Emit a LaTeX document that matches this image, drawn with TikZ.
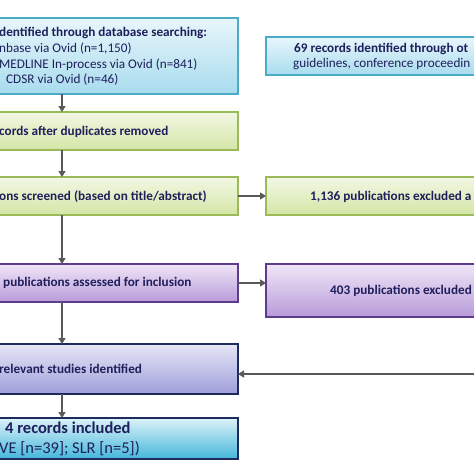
\documentclass[tikz,border=0pt]{standalone}
\usepackage{fontspec}
\setmainfont{Carlito}
\usetikzlibrary{arrows.meta}
\definecolor{txtc}{HTML}{1F1F5C}
\definecolor{arrc}{HTML}{595959}
\definecolor{blueb}{HTML}{4BACC6}
\definecolor{bluet}{HTML}{E8F6FB}
\definecolor{blueo}{HTML}{A8DCEE}
\definecolor{greenb}{HTML}{9BBB59}
\definecolor{greent}{HTML}{F2F7E4}
\definecolor{greeno}{HTML}{D4E6A6}
\definecolor{purpb}{HTML}{5F3B8C}
\definecolor{purpt}{HTML}{F0E6F7}
\definecolor{purpo}{HTML}{B89BD9}
\definecolor{navyb}{HTML}{1F2A5E}
\definecolor{lavt}{HTML}{E6E6F7}
\definecolor{lavo}{HTML}{9E9EDB}
\definecolor{cyant}{HTML}{DDF2F9}
\definecolor{cyano}{HTML}{43B7DA}
\tikzset{
  boxbase/.style={rectangle, anchor=north west, inner sep=0pt, outer sep=0pt, line width=1.4pt},
  bluebox/.style={boxbase, draw=blueb, top color=bluet, bottom color=blueo},
  greenbox/.style={boxbase, draw=greenb, top color=greent, bottom color=greeno},
  purpbox/.style={boxbase, draw=purpb, top color=purpt, bottom color=purpo},
  lavbox/.style={boxbase, draw=navyb, top color=lavt, bottom color=lavo},
  cyanbox/.style={boxbase, draw=navyb, top color=cyant, bottom color=cyano},
  lbl/.style={anchor=west, inner sep=0pt, text=txtc, font=\fontsize{13.2}{16}\selectfont},
  lblb/.style={lbl, font=\fontsize{13.2}{16}\selectfont\bfseries},
  arr/.style={draw=arrc, line width=1.3pt, -{Triangle[length=6pt,width=7pt]}}
}
\begin{document}
\begin{tikzpicture}[x=1pt,y=-1pt]
\useasboundingbox (0,0) rectangle (474,474);
\clip (0,0) rectangle (474,474);
\fill[white] (0,0) rectangle (474,474);
% boxes
\node[bluebox, minimum width=248pt, minimum height=76pt] (b1) at (-10,18) {};
\node[bluebox, minimum width=218pt, minimum height=38pt] (b2) at (266,37) {};
\node[greenbox, minimum width=248pt, minimum height=38pt] (b3) at (-10,112) {};
\node[greenbox, minimum width=248pt, minimum height=38pt] (b4) at (-10,177) {};
\node[greenbox, minimum width=218pt, minimum height=38pt] (b5) at (266,177) {};
\node[purpbox, minimum width=248pt, minimum height=38pt] (b6) at (-10,264) {};
\node[purpbox, minimum width=218pt, minimum height=53pt] (b7) at (266,264) {};
\node[lavbox, minimum width=248pt, minimum height=50pt] (b8) at (-10,344) {};
\node[cyanbox, minimum width=248pt, minimum height=41pt] (b9) at (-10,418) {};
% texts
\node[lblb] (t1a) at (-1,33) {dentified through database searching:};
\node[lbl] (t1b) at (-1,49) {nbase via Ovid (n=1,150)};
\node[lbl] (t1c) at (-1,65) {MEDLINE In-process via Ovid (n=841)};
\node[lbl] (t1d) at (6,80) {CDSR via Ovid (n=46)};
\node[lblb] (t2a) at (294,49) {69 records identified through ot};
\node[lbl] (t2b) at (293,64) {guidelines, conference proceedin};
\node[lblb] (t3) at (-1,132) {cords after duplicates removed};
\node[lblb] (t4) at (-1,197) {ons screened (based on title/abstract)};
\node[lblb] (t5) at (310,197) {1,136 publications excluded a};
\node[lblb] (t6) at (3,283) {publications assessed for inclusion};
\node[lblb] (t7) at (330,291) {403 publications excluded};
\node[lblb] (t8) at (-1,369) {relevant studies identified};
\node[lblb, font=\fontsize{16.5}{19}\selectfont\bfseries] (t9a) at (5,428) {4 records included};
\node[lbl, font=\fontsize{16.5}{19}\selectfont] (t9b) at (-1,449) {VE [n=39]; SLR [n=5])};
% connectors
\coordinate (col) at (62,0);
\coordinate (rin) at (480,374);
\draw[arr] (b1.south -| col) -- (b3.north -| col);
\draw[arr] (b3.south -| col) -- (b4.north -| col);
\draw[arr] (b4.south -| col) -- (b6.north -| col);
\draw[arr] (b6.south -| col) -- (b8.north -| col);
\draw[arr] (b8.south -| col) -- (b9.north -| col);
\draw[arr] (b4.east) -- (b5.west |- b4.east);
\draw[arr] (b6.east) -- (b7.west |- b6.east);
\draw[arr] (rin) -- (b8.east |- rin);
\end{tikzpicture}
\end{document}
